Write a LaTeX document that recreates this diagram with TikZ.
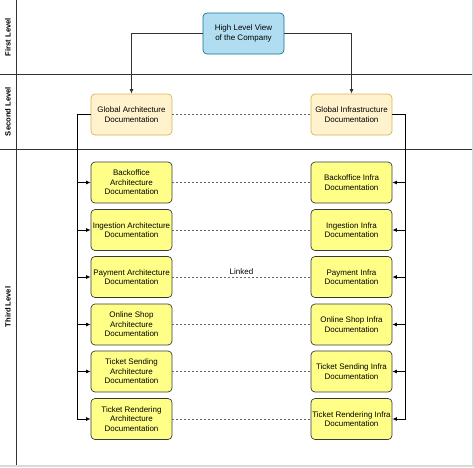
\documentclass[tikz,border=0pt]{standalone}
\usepackage{fontspec}
\setmainfont{Liberation Sans}
\usetikzlibrary{arrows.meta}
\definecolor{bluefill}{HTML}{B1DDF0}
\definecolor{bluedraw}{HTML}{10739E}
\definecolor{orfill}{HTML}{FFF2CC}
\definecolor{ordraw}{HTML}{D6B656}
\definecolor{yfill}{HTML}{FFFF88}
\definecolor{ydraw}{HTML}{36393D}
\definecolor{lanegray}{HTML}{333333}
\begin{document}
\begin{tikzpicture}[x=1pt,y=-1pt,
  basebox/.style={rounded corners=4pt, minimum width=81pt, minimum height=41pt, align=center,
    font=\fontsize{8}{9.5}\selectfont, inner sep=0pt, line width=0.7pt},
  topbox/.style={basebox, fill=bluefill, draw=bluedraw},
  glbox/.style={basebox, fill=orfill, draw=ordraw},
  docbox/.style={basebox, fill=yfill, draw=ydraw},
  conn/.style={draw=lanegray, line width=0.8pt, -{Latex[length=4.5pt,width=4pt]}},
  trunk/.style={draw=black, line width=1pt, -{Latex[length=4.5pt,width=4pt]}},
  link/.style={draw=gray!80!black, line width=0.7pt, dash pattern=on 2pt off 2pt},
  lanelbl/.style={rotate=90, font=\fontsize{7.6}{8}\selectfont\bfseries, inner sep=0pt},
  lane/.style={draw=lanegray, line width=0.9pt}
]
\useasboundingbox (0,0) rectangle (474,467);
% lanes
\draw[lane] (16,0) -- (16,467);
\draw[lane] (0,74) -- (474,74);
\draw[lane] (0,149) -- (474,149);
\draw[gray!30, line width=1.5pt] (473.2,0) -- (473.2,467);
\draw[gray!30, line width=1.5pt] (0,466.2) -- (474,466.2);
\node[lanelbl] (lane1) at (8,37) {First Level};
\node[lanelbl] (lane2) at (8,111.5) {Second Level};
\node[lanelbl] (lane3) at (8,307) {Third Level};

% nodes
\node[topbox] (hl) at (243.5,33.5) {High Level View\\of the Company};
\node[glbox] (ga) at (131.5,114.5) {Global Architecture\\Documentation};
\node[glbox] (gi) at (351.5,114.5) {Global Infrastructure\\Documentation};

\node[docbox] (L1) at (131.5,182.5) {Backoffice\\Architecture\\Documentation};
\node[docbox] (L2) at (131.5,230) {Ingestion Architecture\\Documentation};
\node[docbox] (L3) at (131.5,277) {Payment Architecture\\Documentation};
\node[docbox] (L4) at (131.5,324.5) {Online Shop\\Architecture\\Documentation};
\node[docbox] (L5) at (131.5,371.5) {Ticket Sending\\Architecture\\Documentation};
\node[docbox] (L6) at (131.5,419) {Ticket Rendering\\Architecture\\Documentation};

\node[docbox] (R1) at (351.5,182.5) {Backoffice Infra\\Documentation};
\node[docbox] (R2) at (351.5,230) {Ingestion Infra\\Documentation};
\node[docbox] (R3) at (351.5,277) {Payment Infra\\Documentation};
\node[docbox] (R4) at (351.5,324.5) {Online Shop Infra\\Documentation};
\node[docbox] (R5) at (351.5,371.5) {Ticket Sending Infra\\Documentation};
\node[docbox] (R6) at (351.5,419) {Ticket Rendering Infra\\Documentation};

% top connectors
\draw[conn] (hl.west) -| (ga.north);
\draw[conn] (hl.east) -| (gi.north);
\draw[link] (ga.east) -- (gi.west);

% trunks
\coordinate (lt) at (77,114.5);
\coordinate (rt) at (405.5,114.5);
\foreach \i in {1,...,6} {
  \draw[trunk] (ga.west) -- (lt) |- (L\i.west);
  \draw[trunk] (gi.east) -- (rt) |- (R\i.east);
}

% links
\draw[link] (L1.east) -- (R1.west);
\draw[link] (L2.east) -- (R2.west);
\draw[link] (L3.east) -- node[above=1pt, font=\fontsize{8}{9}\selectfont, text=black, inner sep=1pt] (lk) {Linked} (R3.west);
\draw[link] (L4.east) -- (R4.west);
\draw[link] (L5.east) -- (R5.west);
\draw[link] (L6.east) -- (R6.west);
\end{tikzpicture}
\end{document}
